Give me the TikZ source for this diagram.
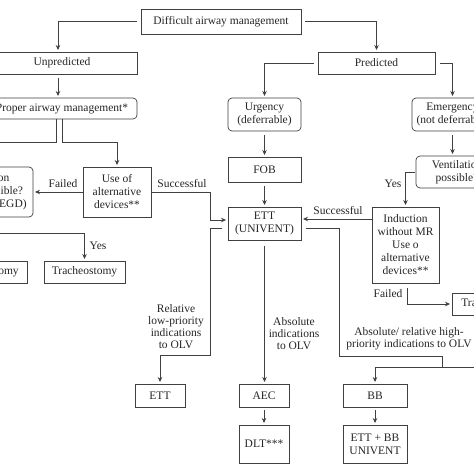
\documentclass[tikz,border=0pt]{standalone}
\usepackage{fontspec}
\setmainfont{Liberation Serif}
\usetikzlibrary{arrows.meta,calc}

\tikzset{
	box/.style={draw=black!75, line width=0.7pt, text=black!85, rectangle, inner sep=0pt, outer sep=0pt, align=center, font=\fontsize{11.5}{13}\selectfont},
	rbox/.style={box, rounded corners=4pt},
	lbl/.style={text=black!85, inner sep=0pt, align=center, font=\fontsize{11.5}{12}\selectfont},
	line/.style={draw=black!75, line width=0.7pt},
	arr/.style={line, -{Stealth[length=5pt,width=4.5pt]}, shorten >=2pt}
}

\begin{document}
\begin{tikzpicture}[x=1pt,y=-1pt]
		\useasboundingbox[fill=white] (0,0) rectangle (474,474);
		\clip (0,0) rectangle (474,474);
		\node[box, minimum width=160pt, minimum height=25pt] (diff) at (221,21.5) {Difficult airway management};
		\node[box, minimum width=150pt, minimum height=22pt] (unpred) at (62,63) {Unpredicted};
		\node[box, minimum width=117pt, minimum height=22pt] (pred) at (376.5,63) {Predicted};
		\node[rbox, minimum width=150pt, minimum height=21pt] (proper) at (62,108.5) {Proper airway management*};
		\node[rbox, minimum width=73pt, minimum height=33pt] (urg) at (264.5,114.5) {Urgency\\(deferrable)};
		\node[rbox, minimum width=81pt, minimum height=33pt] (emer) at (452.5,114.5) {Emergency\\(not deferrable)};
		\node[box, minimum width=73pt, minimum height=25pt] (fob) at (264.5,169.5) {FOB};
		\node[rbox, minimum width=82pt, minimum height=32pt] (vent) at (457,172) {Ventilation\\possible?};
		\node[box, minimum width=68pt, minimum height=50pt] (use) at (117,192) {Use of\\alternative\\devices**};
		\node[rbox, minimum width=112pt, minimum height=50pt] (ventL) at (-23,192) {Ventilation on\\face mask possible?\\(face mask or SEGD)};
		\node[box, minimum width=73pt, minimum height=33pt, font=\fontsize{11.5}{12.5}\selectfont] (ett) at (264.5,223.5) {ETT\\(UNIVENT)};
		\node[box, minimum width=67pt, minimum height=76pt] (induc) at (405.5,245) {Induction\\without MR\\Use o\\alternative\\devices**};
		\node[box, minimum width=81pt, minimum height=22pt] (trachL) at (84.5,272) {Tracheostomy};
		\node[box, minimum width=90pt, minimum height=22pt] (crico) at (-18,272) {Cricothyrotomy};
		\node[box, minimum width=84pt, minimum height=22pt] (trachR) at (494,304) {Tracheostomy};
		\node[box, minimum width=50pt, minimum height=23pt] (ett2) at (160,395.5) {ETT};
		\node[box, minimum width=50pt, minimum height=23pt] (aec) at (264,395.5) {AEC};
		\node[box, minimum width=50pt, minimum height=38pt] (dlt) at (264,444) {DLT***};
		\node[box, minimum width=64pt, minimum height=23pt] (bb) at (375,395.5) {BB};
		\node[box, minimum width=64pt, minimum height=38pt] (ettbb) at (375,444) {ETT + BB\\UNIVENT};
		\coordinate (offA) at (-20,142);
		\coordinate (offB) at (-20,233);
		\coordinate (offC) at (490,367);
		\coordinate (join) at (442,367);
		\node[lbl] (failL) at (63,184) {Failed};
		\node[lbl] (succL) at (182,184) {Successful};
		\node[lbl] (yesL) at (98,246) {Yes};
		\node[lbl] (succR) at (338,211) {Successful};
		\node[lbl] (yesR) at (393,184) {Yes};
		\node[lbl] (failR) at (388,294) {Failed};
		\node[lbl] (relLow) at (176,327) {Relative\\low-priority\\indications\\to OLV};
		\node[lbl] (absol) at (294,334) {Absolute\\indications\\to OLV};
		\node[lbl] (absHigh) at (409,339) {Absolute/ relative high-\\priority indications to OLV};
		\draw[arr, shorten <=4pt] (diff.west) -| ([xshift=-4pt]unpred.north);
		\draw[arr, shorten <=4pt] (diff.east) -| (pred.north);
		\draw[arr, shorten <=4pt] ([xshift=-4pt]unpred.south) -- ([xshift=-4pt]proper.north);
		\draw[arr, shorten <=4pt] (pred.west) -| (urg.north);
		\draw[arr, shorten <=5pt] (pred.east) -| (emer.north);
		\draw[arr, shorten <=4pt] (urg.south) -- (fob.north);
		\draw[arr, shorten <=4pt] (fob.south) -- (ett.north);
		\draw[arr, shorten <=4pt] (emer.south) -- (emer.south |- vent.north);
		\draw[line] ([xshift=-6pt]proper.south) |- (offA);
		\draw[arr] (proper.south) |- ([yshift=25pt]use.north) -- (use.north);
		\draw[arr] (use.west) -- (ventL.east);
		\draw[arr] (use.east) -- ++(59,0) |- ([yshift=3.5pt]ett.west);
		\draw[arr] ([yshift=26pt]induc.west) -- ([yshift=26pt]induc.west -| ett.east);
		\draw[arr, shorten <=1pt] (vent.west) -| (induc.north);
		\draw[arr, shorten <=5pt] ([xshift=1.5pt]induc.south) |- (trachR.west);
		\draw[arr] (offB) -| (trachL.north);
		\draw[arr, shorten <=6pt] ([yshift=-4.5pt]ett.west) -- ++(-18,0) |- ([yshift=29pt]ett2.north) -- (ett2.north);
		\draw[arr, shorten <=6pt] (ett.south) -- (ett.south |- aec.north);
		\draw[line, shorten <=5pt] ([yshift=-4.5pt]ett.east) -- ++(38,0) |- ([yshift=11pt]join) -- (join);
		\draw[arr] (offC) -| (bb.north);
		\draw[arr, shorten <=3pt] (aec.south) -- (dlt.north);
		\draw[arr, shorten <=3pt] (bb.south) -- (ettbb.north);
\end{tikzpicture}
\end{document}
